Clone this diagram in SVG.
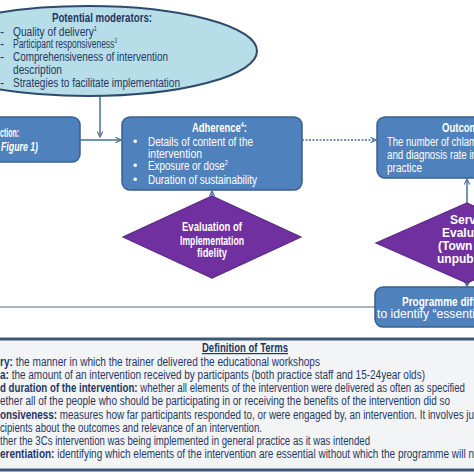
<svg xmlns="http://www.w3.org/2000/svg" width="474" height="474" viewBox="0 0 474 474">
<defs>
<style>
text{font-family:"Liberation Sans",Arial,sans-serif}
.box{fill:#4f81bd;stroke:#3a5f8c;stroke-width:1.5}
.dia{fill:#7030a0;stroke:#5a2a86;stroke-width:1.2}
.w{fill:#ffffff;font-size:12px}
.wb{fill:#ffffff;font-size:12px;font-weight:bold}
.n{fill:#1f3864;font-size:12.5px}
.nb{fill:#1f3864;font-size:12.5px;font-weight:bold}
.d{fill:#1f3864;font-size:12px}
.b{font-weight:bold}
.con{fill:none;stroke:#4a6f9a;stroke-width:1.5}
.sup{font-size:7px}
</style>
<marker id="ah" viewBox="0 0 10 10" refX="9" refY="5" markerWidth="7" markerHeight="7" orient="auto" markerUnits="userSpaceOnUse">
<path d="M1,1 L9,5 L1,9" fill="none" stroke="#4a6f9a" stroke-width="1.6"/>
</marker>
</defs>
<rect width="474" height="474" fill="#ffffff"/>

<g id="connectors">
<line class="con" x1="100" y1="96" x2="100" y2="137" marker-end="url(#ah)"/>
<line class="con" x1="80" y1="140" x2="121" y2="140" marker-end="url(#ah)"/>
<line class="con" x1="302" y1="140" x2="376" y2="140" stroke-dasharray="2,1.5" marker-end="url(#ah)"/>
<line class="con" x1="212" y1="196" x2="212" y2="191" marker-end="url(#ah)"/>
<line class="con" x1="467" y1="203" x2="467" y2="179" marker-end="url(#ah)"/>
<line class="con" x1="467" y1="283" x2="467" y2="286.5" marker-end="url(#ah)"/>
<line x1="0" y1="307" x2="375" y2="307" stroke="#8a9bb0" stroke-width="1.5"/>
</g>

<g id="moderators">
<ellipse cx="88" cy="51" rx="169" ry="45" fill="#b7dde8" stroke="#2c4a6e" stroke-width="2"/>
<text class="nb" x="102" y="22" text-anchor="middle" textLength="100" lengthAdjust="spacingAndGlyphs">Potential moderators:</text>
<text class="n" x="0" y="36">-</text>
<text class="n" x="13" y="36" textLength="84" lengthAdjust="spacingAndGlyphs">Quality of delivery<tspan class="sup" dy="-5">1</tspan></text>
<text class="n" x="0" y="48">-</text>
<text class="n" x="13" y="48" textLength="104" lengthAdjust="spacingAndGlyphs">Participant responsiveness<tspan class="sup" dy="-5">3</tspan></text>
<text class="n" x="0" y="61">-</text>
<text class="n" x="13" y="61" textLength="155" lengthAdjust="spacingAndGlyphs">Comprehensiveness of intervention</text>
<text class="n" x="13" y="74" textLength="49" lengthAdjust="spacingAndGlyphs">description</text>
<text class="n" x="0" y="87">-</text>
<text class="n" x="13" y="87" textLength="167" lengthAdjust="spacingAndGlyphs">Strategies to facilitate implementation</text>
</g>

<g id="intervention">
<rect class="box" x="-20" y="117" width="100" height="45" rx="8"/>
<text class="wb" x="0" y="137" textLength="19" lengthAdjust="spacingAndGlyphs">ction:</text>
<text class="wb" x="1" y="151" font-style="italic" textLength="37" lengthAdjust="spacingAndGlyphs">Figure 1)</text>
</g>

<g id="adherence">
<rect class="box" x="122" y="117" width="180" height="73" rx="8"/>
<text class="wb" x="192" y="132" textLength="55" lengthAdjust="spacingAndGlyphs">Adherence<tspan class="sup" dy="-5">4</tspan><tspan dy="5">:</tspan></text>
<text class="w" x="133" y="146">•</text>
<text class="w" x="148" y="146" textLength="105" lengthAdjust="spacingAndGlyphs">Details of content of the</text>
<text class="w" x="148" y="158" textLength="54" lengthAdjust="spacingAndGlyphs">intervention</text>
<text class="w" x="133" y="170">•</text>
<text class="w" x="148" y="170" textLength="80" lengthAdjust="spacingAndGlyphs">Exposure or dose<tspan class="sup" dy="-5">2</tspan></text>
<text class="w" x="133" y="184">•</text>
<text class="w" x="148" y="184" textLength="109" lengthAdjust="spacingAndGlyphs">Duration of sustainability</text>
</g>

<g id="outcome">
<rect class="box" x="377" y="117" width="120" height="61" rx="8"/>
<text class="wb" x="442" y="132" textLength="36" lengthAdjust="spacingAndGlyphs">Outcom</text>
<text class="w" x="387" y="146" textLength="90" lengthAdjust="spacingAndGlyphs">The number of chlam</text>
<text class="w" x="387" y="159" textLength="90" lengthAdjust="spacingAndGlyphs">and diagnosis rate in</text>
<text class="w" x="387" y="172" textLength="35" lengthAdjust="spacingAndGlyphs">practice</text>
</g>

<g id="fidelity">
<polygon class="dia" points="212,196 301,237 212,278 123,237"/>
<text class="wb" x="212" y="231" text-anchor="middle" textLength="60" lengthAdjust="spacingAndGlyphs">Evaluation of</text>
<text class="wb" x="212" y="245" text-anchor="middle" textLength="64" lengthAdjust="spacingAndGlyphs">Implementation</text>
<text class="wb" x="212" y="257" text-anchor="middle" textLength="30" lengthAdjust="spacingAndGlyphs">fidelity</text>
</g>

<g id="service">
<polygon class="dia" points="467,203 558,243 467,283 376,243"/>
<text class="wb" x="450" y="224">Servi</text>
<text class="wb" x="442" y="237">Evaluat</text>
<text class="wb" x="438" y="250">(Town e</text>
<text class="wb" x="437" y="263">unpublis</text>
</g>

<g id="programme">
<rect class="box" x="375" y="287" width="120" height="40" rx="8"/>
<text class="wb" x="402" y="306" textLength="74" lengthAdjust="spacingAndGlyphs">Programme diff</text>
<text class="w" x="377" y="318" textLength="98" lengthAdjust="spacingAndGlyphs">to identify “essenti</text>
</g>

<g id="definitions">
<rect x="-5" y="339" width="484" height="131" fill="#f3f4f6"/>
<line x1="0" y1="339" x2="474" y2="339" stroke="#3b5876" stroke-width="3"/>
<line x1="0" y1="470" x2="474" y2="470" stroke="#3b5876" stroke-width="3"/>
<text class="d b" x="245" y="352" text-anchor="middle" text-decoration="underline" textLength="86" lengthAdjust="spacingAndGlyphs">Definition of Terms</text>
<text class="d" x="0" y="366" textLength="320" lengthAdjust="spacingAndGlyphs"><tspan class="b">ry:</tspan> the manner in which the trainer delivered the educational workshops</text>
<text class="d" x="0" y="379" textLength="425" lengthAdjust="spacingAndGlyphs"><tspan class="b">a:</tspan> the amount of an intervention received by participants (both practice staff and 15-24year olds)</text>
<text class="d" x="0" y="392" textLength="465" lengthAdjust="spacingAndGlyphs"><tspan class="b">d duration of the intervention:</tspan> whether all elements of the intervention were delivered as often as specified</text>
<text class="d" x="0" y="405" textLength="450" lengthAdjust="spacingAndGlyphs">ether all of the people who should be participating in or receiving the benefits of the intervention did so</text>
<text class="d" x="0" y="419" textLength="474" lengthAdjust="spacingAndGlyphs"><tspan class="b">onsiveness:</tspan> measures how far participants responded to, or were engaged by, an intervention. It involves ju</text>
<text class="d" x="0" y="432" textLength="262" lengthAdjust="spacingAndGlyphs">cipients about the outcomes and relevance of an intervention.</text>
<text class="d" x="0" y="445" textLength="370" lengthAdjust="spacingAndGlyphs">ther the 3Cs intervention was being implemented in general practice as it was intended</text>
<text class="d" x="0" y="458" textLength="474" lengthAdjust="spacingAndGlyphs"><tspan class="b">erentiation:</tspan> identifying which elements of the intervention are essential without which the programme will n</text>
</g>
</svg>
